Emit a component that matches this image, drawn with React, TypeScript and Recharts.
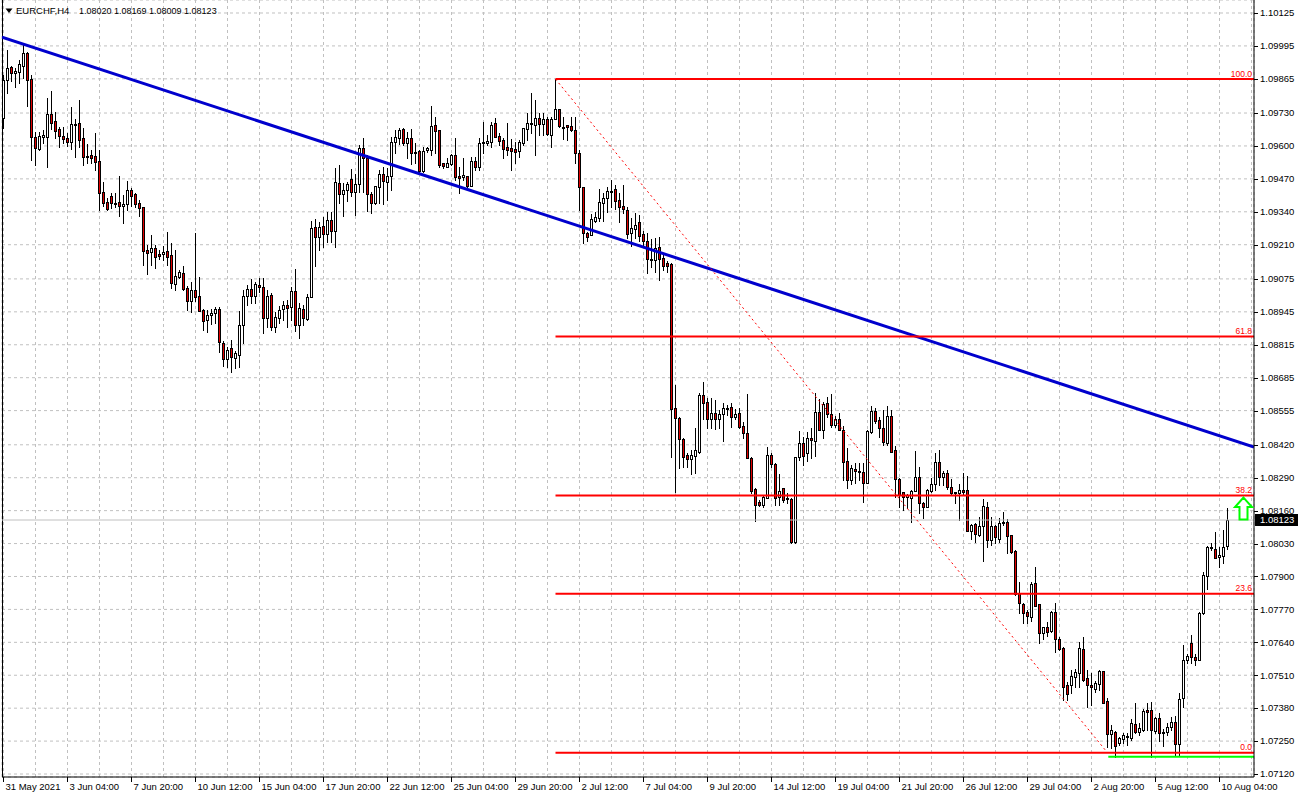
import React from 'react';
import { ComposedChart, Bar, XAxis, YAxis, CartesianGrid, ReferenceLine, ReferenceDot } from 'recharts';

// ---- data: H4 candles, 31 May 2021 12:00 .. 10 Aug 2021 ----
const openPrices = [
1.09710,1.09860,1.09910,1.09887,1.09893,1.09917,1.09966,1.09863,1.09636,1.09588,
1.09636,1.09636,1.09725,1.09698,1.09667,1.09639,1.09630,1.09614,1.09685,1.09689,
1.09630,1.09561,1.09564,1.09560,1.09540,1.09417,1.09380,1.09402,1.09376,1.09378,
1.09364,1.09369,1.09426,1.09409,1.09376,1.09357,1.09189,1.09180,1.09196,1.09173,
1.09173,1.09185,1.09169,1.09055,1.09084,1.09097,1.09040,1.08989,1.09031,1.09007,
1.08952,1.08913,1.08931,1.08939,1.08955,1.08823,1.08757,1.08801,1.08764,1.08774,
1.08893,1.09007,1.09034,1.09007,1.09051,1.09042,1.08922,1.09011,1.08886,1.08922,
1.08955,1.08972,1.08963,1.09027,1.08894,1.08955,1.08915,1.09005,1.09279,1.09242,
1.09284,1.09252,1.09307,1.09264,1.09452,1.09409,1.09426,1.09468,1.09419,1.09448,
1.09591,1.09551,1.09409,1.09373,1.09439,1.09488,1.09459,1.09482,1.09617,1.09630,
1.09666,1.09610,1.09630,1.09577,1.09580,1.09502,1.09584,1.09584,1.09683,1.09663,
1.09531,1.09518,1.09529,1.09564,1.09481,1.09478,1.09481,1.09443,1.09542,1.09518,
1.09610,1.09610,1.09617,1.09689,1.09639,1.09623,1.09595,1.09591,1.09587,1.09581,
1.09613,1.09668,1.09689,1.09683,1.09709,1.09685,1.09705,1.09643,1.09705,1.09745,
1.09676,1.09683,1.09679,1.09663,1.09571,1.09437,1.09257,1.09248,1.09305,1.09314,
1.09373,1.09395,1.09422,1.09430,1.09386,1.09363,1.09347,1.09255,1.09272,1.09298,
1.09252,1.09224,1.09153,1.09149,1.09200,1.09156,1.09137,1.09133,1.08564,1.08524,
1.08442,1.08380,1.08363,1.08376,1.08392,1.08616,1.08588,1.08520,1.08546,1.08520,
1.08541,1.08566,1.08568,1.08531,1.08544,1.08494,1.08465,1.08366,1.08244,1.08193,
1.08182,1.08211,1.08380,1.08343,1.08215,1.08248,1.08209,1.08206,1.08037,1.08370,
1.08428,1.08389,1.08445,1.08436,1.08550,1.08478,1.08584,1.08541,1.08498,1.08520,
1.08478,1.08356,1.08281,1.08324,1.08318,1.08314,1.08270,1.08471,1.08555,1.08518,
1.08487,1.08428,1.08533,1.08399,1.08284,1.08232,1.08214,1.08209,1.08239,1.08292,
1.08189,1.08175,1.08239,1.08265,1.08351,1.08294,1.08310,1.08254,1.08235,1.08228,
1.08241,1.08241,1.08081,1.08107,1.08064,1.08101,1.08173,1.08044,1.08101,1.08047,
1.08115,1.08114,1.08064,1.08001,1.07833,1.07791,1.07761,1.07741,1.07873,1.07791,
1.07675,1.07699,1.07684,1.07761,1.07652,1.07616,1.07471,1.07471,1.07504,1.07520,
1.07612,1.07498,1.07471,1.07454,1.07474,1.07528,1.07408,1.07277,1.07287,1.07241,
1.07257,1.07267,1.07261,1.07316,1.07285,1.07294,1.07373,1.07373,1.07291,1.07340,
1.07287,1.07287,1.07304,1.07326,1.07238,1.07419,1.07570,1.07636,1.07581,1.07570,
1.07754,1.07902,1.08015,1.08007,1.07975,1.07981,1.08020
];
const highPrices = [
1.09880,1.09979,1.09915,1.09908,1.09939,1.09998,1.09972,1.09880,1.09655,1.09654,
1.09663,1.09788,1.09817,1.09735,1.09676,1.09674,1.09652,1.09752,1.09705,1.09781,
1.09670,1.09606,1.09584,1.09650,1.09584,1.09456,1.09393,1.09413,1.09413,1.09482,
1.09406,1.09461,1.09434,1.09413,1.09386,1.09360,1.09209,1.09248,1.09209,1.09189,
1.09206,1.09261,1.09215,1.09189,1.09110,1.09126,1.09047,1.09061,1.09255,1.09084,
1.08955,1.08952,1.08955,1.08965,1.08965,1.08831,1.08807,1.08834,1.08791,1.08949,
1.09031,1.09051,1.09073,1.09064,1.09077,1.09080,1.09031,1.09018,1.08945,1.08968,
1.08989,1.08992,1.09044,1.09113,1.08978,1.08972,1.09015,1.09305,1.09310,1.09301,
1.09320,1.09340,1.09340,1.09512,1.09525,1.09455,1.09456,1.09508,1.09489,1.09604,
1.09630,1.09564,1.09419,1.09443,1.09505,1.09516,1.09512,1.09636,1.09663,1.09670,
1.09671,1.09656,1.09666,1.09610,1.09584,1.09597,1.09597,1.09758,1.09715,1.09663,
1.09531,1.09552,1.09568,1.09630,1.09518,1.09551,1.09481,1.09555,1.09555,1.09630,
1.09696,1.09643,1.09696,1.09709,1.09650,1.09630,1.09692,1.09626,1.09617,1.09623,
1.09670,1.09731,1.09808,1.09781,1.09731,1.09731,1.09715,1.09715,1.09864,1.09745,
1.09715,1.09683,1.09715,1.09715,1.09584,1.09437,1.09261,1.09331,1.09340,1.09429,
1.09415,1.09437,1.09465,1.09446,1.09415,1.09446,1.09360,1.09314,1.09334,1.09327,
1.09264,1.09257,1.09231,1.09235,1.09239,1.09169,1.09147,1.09137,1.08656,1.08531,
1.08445,1.08386,1.08399,1.08485,1.08625,1.08669,1.08606,1.08603,1.08597,1.08557,
1.08584,1.08577,1.08584,1.08560,1.08564,1.08511,1.08620,1.08370,1.08248,1.08202,
1.08222,1.08410,1.08386,1.08347,1.08304,1.08248,1.08228,1.08209,1.08370,1.08474,
1.08452,1.08472,1.08485,1.08623,1.08599,1.08590,1.08607,1.08620,1.08533,1.08546,
1.08494,1.08406,1.08340,1.08347,1.08347,1.08347,1.08478,1.08573,1.08564,1.08531,
1.08557,1.08573,1.08557,1.08415,1.08288,1.08235,1.08226,1.08242,1.08396,1.08333,
1.08195,1.08244,1.08287,1.08386,1.08399,1.08318,1.08321,1.08284,1.08235,1.08265,
1.08310,1.08297,1.08107,1.08112,1.08134,1.08205,1.08195,1.08134,1.08103,1.08130,
1.08156,1.08126,1.08064,1.08004,1.07879,1.07794,1.07767,1.07879,1.07936,1.07791,
1.07702,1.07721,1.07765,1.07797,1.07662,1.07622,1.07484,1.07530,1.07533,1.07642,
1.07660,1.07531,1.07518,1.07488,1.07531,1.07528,1.07421,1.07313,1.07291,1.07267,
1.07281,1.07281,1.07336,1.07399,1.07320,1.07375,1.07399,1.07403,1.07346,1.07360,
1.07296,1.07320,1.07346,1.07349,1.07439,1.07629,1.07594,1.07668,1.07594,1.07761,
1.07919,1.08020,1.08033,1.08077,1.08017,1.08083,1.08169
];
const lowPrices = [
1.09671,1.09810,1.09857,1.09834,1.09847,1.09867,1.09758,1.09544,1.09525,1.09584,
1.09610,1.09518,1.09666,1.09630,1.09595,1.09610,1.09601,1.09587,1.09557,1.09595,
1.09525,1.09534,1.09534,1.09505,1.09347,1.09363,1.09347,1.09354,1.09360,1.09324,
1.09294,1.09347,1.09363,1.09360,1.09323,1.09130,1.09093,1.09130,1.09117,1.09152,
1.09149,1.09130,1.09038,1.09031,1.09077,1.09031,1.08952,1.08945,1.08988,1.08949,
1.08873,1.08866,1.08897,1.08900,1.08787,1.08731,1.08726,1.08708,1.08724,1.08728,
1.08821,1.08972,1.08978,1.08978,1.09024,1.08860,1.08886,1.08873,1.08866,1.08900,
1.08913,1.08886,1.08913,1.08870,1.08840,1.08893,1.08913,1.09005,1.09127,1.09189,
1.09202,1.09222,1.09222,1.09200,1.09373,1.09323,1.09382,1.09402,1.09326,1.09419,
1.09419,1.09344,1.09334,1.09371,1.09373,1.09371,1.09386,1.09426,1.09571,1.09608,
1.09604,1.09552,1.09529,1.09531,1.09492,1.09498,1.09576,1.09564,1.09571,1.09518,
1.09513,1.09517,1.09525,1.09465,1.09413,1.09465,1.09439,1.09442,1.09505,1.09505,
1.09571,1.09604,1.09597,1.09636,1.09604,1.09551,1.09564,1.09505,1.09534,1.09555,
1.09604,1.09623,1.09650,1.09564,1.09643,1.09643,1.09643,1.09597,1.09705,1.09676,
1.09626,1.09623,1.09660,1.09534,1.09347,1.09215,1.09226,1.09248,1.09301,1.09305,
1.09305,1.09340,1.09360,1.09350,1.09301,1.09334,1.09235,1.09205,1.09235,1.09226,
1.09205,1.09097,1.09123,1.09103,1.09070,1.09110,1.09103,1.08373,1.08235,1.08327,
1.08331,1.08331,1.08303,1.08307,1.08388,1.08520,1.08485,1.08485,1.08482,1.08485,
1.08436,1.08537,1.08491,1.08520,1.08485,1.08445,1.08366,1.08228,1.08120,1.08179,
1.08175,1.08211,1.08333,1.08182,1.08182,1.08195,1.08189,1.08031,1.08033,1.08360,
1.08340,1.08357,1.08367,1.08376,1.08478,1.08445,1.08531,1.08491,1.08489,1.08478,
1.08281,1.08248,1.08265,1.08268,1.08281,1.08195,1.08268,1.08465,1.08505,1.08449,
1.08419,1.08419,1.08392,1.08215,1.08175,1.08162,1.08169,1.08116,1.08239,1.08152,
1.08130,1.08173,1.08235,1.08241,1.08261,1.08261,1.08244,1.08222,1.08189,1.08123,
1.08222,1.08081,1.08047,1.08037,1.08060,1.07962,1.08017,1.08024,1.08031,1.08037,
1.08103,1.07991,1.07991,1.07827,1.07757,1.07717,1.07717,1.07725,1.07783,1.07636,
1.07652,1.07665,1.07682,1.07603,1.07610,1.07412,1.07412,1.07438,1.07465,1.07465,
1.07488,1.07386,1.07392,1.07445,1.07452,1.07399,1.07227,1.07224,1.07188,1.07234,
1.07241,1.07234,1.07254,1.07281,1.07275,1.07291,1.07294,1.07188,1.07283,1.07251,
1.07230,1.07275,1.07294,1.07195,1.07195,1.07386,1.07557,1.07557,1.07550,1.07570,
1.07752,1.07849,1.08004,1.07972,1.07938,1.07954,1.08009
];
const closePrices = [
1.09860,1.09906,1.09889,1.09896,1.09922,1.09966,1.09860,1.09636,1.09591,1.09639,
1.09643,1.09725,1.09692,1.09660,1.09640,1.09628,1.09617,1.09686,1.09682,1.09623,
1.09557,1.09556,1.09553,1.09538,1.09415,1.09376,1.09351,1.09373,1.09371,1.09364,
1.09371,1.09426,1.09403,1.09371,1.09356,1.09186,1.09178,1.09197,1.09163,1.09166,
1.09182,1.09163,1.09057,1.09086,1.09101,1.09036,1.08989,1.09031,1.09005,1.08949,
1.08910,1.08932,1.08941,1.08955,1.08824,1.08757,1.08794,1.08768,1.08781,1.08893,
1.09007,1.09034,1.09007,1.09054,1.09044,1.08922,1.09007,1.08886,1.08926,1.08952,
1.08972,1.08959,1.09027,1.08892,1.08959,1.08919,1.09002,1.09275,1.09239,1.09281,
1.09252,1.09307,1.09264,1.09456,1.09409,1.09426,1.09448,1.09419,1.09448,1.09591,
1.09551,1.09409,1.09376,1.09443,1.09488,1.09463,1.09481,1.09617,1.09636,1.09663,
1.09610,1.09632,1.09573,1.09571,1.09502,1.09580,1.09591,1.09679,1.09660,1.09525,
1.09522,1.09531,1.09564,1.09478,1.09474,1.09485,1.09443,1.09542,1.09516,1.09610,
1.09615,1.09621,1.09683,1.09636,1.09621,1.09587,1.09584,1.09581,1.09575,1.09617,
1.09670,1.09689,1.09685,1.09709,1.09685,1.09705,1.09646,1.09705,1.09745,1.09679,
1.09672,1.09676,1.09663,1.09571,1.09437,1.09255,1.09241,1.09310,1.09318,1.09377,
1.09393,1.09422,1.09419,1.09384,1.09360,1.09350,1.09251,1.09275,1.09288,1.09245,
1.09224,1.09152,1.09148,1.09198,1.09152,1.09127,1.09127,1.08560,1.08524,1.08442,
1.08373,1.08363,1.08380,1.08399,1.08616,1.08584,1.08520,1.08546,1.08520,1.08541,
1.08564,1.08562,1.08531,1.08541,1.08489,1.08465,1.08369,1.08239,1.08182,1.08182,
1.08215,1.08380,1.08343,1.08211,1.08239,1.08202,1.08205,1.08037,1.08370,1.08426,
1.08376,1.08445,1.08439,1.08550,1.08478,1.08581,1.08541,1.08498,1.08520,1.08478,
1.08353,1.08281,1.08327,1.08316,1.08314,1.08270,1.08474,1.08555,1.08515,1.08485,
1.08430,1.08533,1.08392,1.08284,1.08222,1.08215,1.08220,1.08239,1.08292,1.08189,
1.08173,1.08241,1.08265,1.08351,1.08294,1.08310,1.08254,1.08231,1.08231,1.08240,
1.08235,1.08081,1.08103,1.08068,1.08101,1.08178,1.08044,1.08101,1.08055,1.08110,
1.08110,1.08060,1.07998,1.07830,1.07796,1.07757,1.07744,1.07870,1.07783,1.07678,
1.07699,1.07682,1.07761,1.07652,1.07612,1.07465,1.07436,1.07507,1.07524,1.07616,
1.07491,1.07471,1.07462,1.07478,1.07528,1.07401,1.07277,1.07294,1.07231,1.07261,
1.07274,1.07270,1.07320,1.07285,1.07300,1.07370,1.07366,1.07294,1.07340,1.07281,
1.07281,1.07304,1.07326,1.07238,1.07415,1.07570,1.07586,1.07581,1.07570,1.07754,
1.07906,1.08015,1.08012,1.07972,1.07985,1.08017,1.08123
];

// axis labels (one every 16 bars) and price ticks
const timeLabels = [
  '31 May 2021', '3 Jun 04:00', '7 Jun 20:00', '10 Jun 12:00', '15 Jun 04:00',
  '17 Jun 20:00', '22 Jun 12:00', '25 Jun 04:00', '29 Jun 20:00', '2 Jul 12:00',
  '7 Jul 04:00', '9 Jul 20:00', '14 Jul 12:00', '19 Jul 04:00', '21 Jul 20:00',
  '26 Jul 12:00', '29 Jul 04:00', '2 Aug 20:00', '5 Aug 12:00', '10 Aug 04:00'
];
const priceTicks = [
  1.10125, 1.09995, 1.09865, 1.09730, 1.09600, 1.09470, 1.09340, 1.09210,
  1.09075, 1.08945, 1.08815, 1.08685, 1.08555, 1.08420, 1.08290, 1.08160,
  1.08030, 1.07900, 1.07770, 1.07640, 1.07510, 1.07380, 1.07250, 1.07120
];

// drawn objects
const symbolTitle = 'EURCHF,H4';
const headerPrices = ['1.08020', '1.08169', '1.08009', '1.08123'];
const lastPrice = 1.08123;
const fibHigh = 1.09864;
const fibLow = 1.07204;
const fibStartBar = 138;
const fibEndBar = 276;
const fibLevels = [100.0, 61.8, 38.2, 23.6, 0.0];
const trendStartBar = -0.375;
const trendStartPrice = 1.10030;
const trendEndBar = 312.625;
const trendEndPrice = 1.08411;
const supportPrice = 1.07188;
const supportStartBar = 276.2;
const arrowBar = 310;
const arrowPrice = 1.08168;

const X_MIN = -0.375;
const X_MAX = 312.625;
const Y_MIN = 1.071082;
const Y_MAX = 1.101763;

const FONT = '"Liberation Sans", Arial, sans-serif';

const data = openPrices.map((o, i) => ({
  i,
  open: o,
  high: highPrices[i],
  low: lowPrices[i],
  close: closePrices[i],
  range: [lowPrices[i], highPrices[i]],
}));

const xTicks = Array.from({ length: 40 }, (_, k) => k * 8);

const Candle = (props: any) => {
  const { x, y, width, height, payload } = props;
  if (x == null || y == null || !payload) return <g />;
  const { open, close, high, low } = payload;
  const span = high - low;
  const k = span > 0 ? height / span : 0;
  const cx = Math.floor(x + width / 2) + 0.5;
  const yO = y + (high - open) * k;
  const yC = y + (high - close) * k;
  const top = Math.round(Math.min(yO, yC));
  const bot = Math.round(Math.max(yO, yC));
  const bull = close >= open;
  return (
    <g>
      <line x1={cx} x2={cx} y1={Math.round(y)} y2={Math.round(y + height) + 1} stroke="#000" strokeWidth={1} />
      <rect x={cx - 1} y={top + 0.5} width={2} height={Math.max(bot - top, 0)} fill={bull ? '#ffffff' : '#e00000'} stroke="#000" strokeWidth={1} />
    </g>
  );
};

const XTick = (props: any) => {
  const { x, y, payload } = props;
  const v = payload.value;
  if (v % 16 !== 0) return <g />;
  const label = timeLabels[v / 16];
  const px = Math.floor(x) + 0.5;
  return (
    <g>
      <line x1={px} x2={px} y1={y} y2={y + 5} stroke="#000" strokeWidth={1} />
      <text x={px + 2} y={y + 13} fontSize={9.5} fontFamily={FONT} fill="#000" textAnchor="start">{label}</text>
    </g>
  );
};

const YTick = (props: any) => {
  const { x, y, payload } = props;
  const py = Math.round(y) + 0.5;
  return (
    <g>
      <line x1={x} x2={x + 4} y1={py} y2={py} stroke="#000" strokeWidth={1} />
      <text x={x + 6} y={y} dy="0.35em" fontSize={9.5} fontFamily={FONT} fill="#000" textAnchor="start">{payload.value.toFixed(5)}</text>
    </g>
  );
};

const fibPrice = (lvl: number) => fibLow + (fibHigh - fibLow) * lvl / 100;

export default function App() {
  return (
    <div style={{ position: 'absolute', left: 0, top: 0, width: 1300, height: 798, background: '#fff', overflow: 'hidden' }}>
      <ComposedChart width={1300} height={798} data={data} margin={{ top: 0, right: 0, bottom: 0, left: 2 }}>
        <CartesianGrid stroke="#c0c0c0" strokeDasharray="3 3" />
        <XAxis
          dataKey="i"
          type="number"
          domain={[X_MIN, X_MAX]}
          allowDataOverflow
          ticks={xTicks}
          interval={0}
          height={21}
          tickSize={0}
          tickMargin={0}
          tick={<XTick />}
          axisLine={{ stroke: '#000' }}
          tickLine={false}
        />
        <YAxis
          orientation="right"
          type="number"
          domain={[Y_MIN, Y_MAX]}
          allowDataOverflow
          ticks={priceTicks}
          interval={0}
          width={46}
          tickSize={0}
          tickMargin={0}
          tick={<YTick />}
          axisLine={{ stroke: '#000' }}
          tickLine={false}
        />
        <ReferenceLine x={-0.25} stroke="#000" strokeWidth={1} ifOverflow="visible" />
        <ReferenceLine y={lastPrice} stroke="#c0c0c0" strokeWidth={1} />
        <Bar dataKey="range" barSize={3} isAnimationActive={false} shape={(p: any) => <Candle {...p} />} />
        <ReferenceLine
          segment={[{ x: trendStartBar, y: trendStartPrice }, { x: trendEndBar, y: trendEndPrice }]}
          stroke="#0000cd" strokeWidth={3} ifOverflow="hidden"
        />
        <ReferenceLine
          segment={[{ x: fibStartBar, y: fibHigh }, { x: fibEndBar, y: fibLow }]}
          stroke="#ff0000" strokeWidth={1} strokeDasharray="2 3" ifOverflow="hidden"
        />
        {fibLevels.map((lvl) => (
          <ReferenceLine
            key={'fib' + lvl}
            segment={[{ x: fibStartBar, y: fibPrice(lvl) }, { x: X_MAX, y: fibPrice(lvl) }]}
            stroke="#ff0000" strokeWidth={2} ifOverflow="hidden"
          />
        ))}
        <ReferenceLine
          segment={[{ x: supportStartBar, y: supportPrice }, { x: X_MAX, y: supportPrice }]}
          stroke="#00ff00" strokeWidth={2} ifOverflow="hidden"
        />
        {fibLevels.map((lvl) => (
          <ReferenceDot
            key={'fl' + lvl}
            x={312.4}
            y={fibPrice(lvl)}
            ifOverflow="visible"
            shape={(p: any) => (
              <text x={p.cx - 1} y={p.cy - 2.5} fontSize={8.5} fontFamily={FONT} fill="#ff0000" textAnchor="end">{lvl.toFixed(1)}</text>
            )}
          />
        ))}
        <ReferenceDot
          x={arrowBar}
          y={arrowPrice}
          ifOverflow="visible"
          shape={(p: any) => {
            const cx = p.cx, cy = p.cy;
            const d = `M ${cx} ${cy - 11} L ${cx + 8.5} ${cy - 1.5} L ${cx + 4} ${cy - 1.5} L ${cx + 4} ${cy + 11} L ${cx - 4} ${cy + 11} L ${cx - 4} ${cy - 1.5} L ${cx - 8.5} ${cy - 1.5} Z`;
            return <path d={d} fill="#ffffff" stroke="#00ff00" strokeWidth={2} strokeLinejoin="miter" />;
          }}
        />
        <ReferenceDot
          x={X_MAX}
          y={lastPrice}
          ifOverflow="visible"
          shape={(p: any) => (
            <g>
              <rect x={p.cx + 1} y={Math.round(p.cy) - 6} width={43} height={12} fill="#000" />
              <text x={p.cx + 6} y={p.cy} dy="0.35em" fontSize={9.5} fontFamily={FONT} fill="#fff">{lastPrice.toFixed(5)}</text>
            </g>
          )}
        />
      </ComposedChart>
      <svg style={{ position: 'absolute', left: 5, top: 8 }} width={9} height={6}>
        <polygon points="0.5,0.5 7.5,0.5 4,5" fill="#000" />
      </svg>
      <div style={{ position: 'absolute', left: 16, top: 5, font: `9.5px ${FONT}`, lineHeight: '12px', color: '#000', whiteSpace: 'pre' }}>
        {symbolTitle}
      </div>
      <div style={{ position: 'absolute', left: 79, top: 5, font: `9px ${FONT}`, lineHeight: '12px', color: '#000', whiteSpace: 'pre' }}>
        {headerPrices.join(' ')}
      </div>
    </div>
  );
}
